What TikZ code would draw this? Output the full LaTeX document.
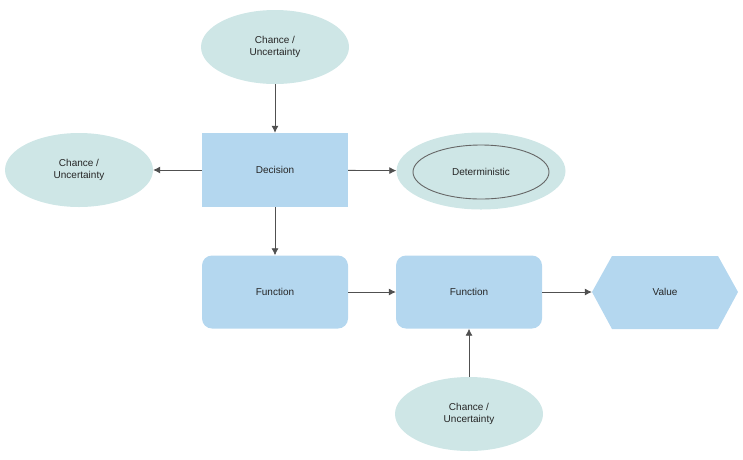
\documentclass[tikz,border=0pt]{standalone}
\usepackage{fontspec}
\setmainfont{Liberation Sans}
\usetikzlibrary{shapes.geometric,arrows.meta}
\definecolor{ell}{RGB}{206,230,230}
\definecolor{box}{RGB}{180,215,239}
\definecolor{ln}{RGB}{80,80,80}
\begin{document}
\begin{tikzpicture}[x=1pt,y=-1pt,
  every node/.style={font=\fontsize{10}{12}\selectfont, text=black!85, align=center},
  ch/.style={ellipse, fill=ell, minimum width=148, minimum height=74, inner sep=0},
  dec/.style={rectangle, fill=box, minimum width=146, minimum height=74},
  fn/.style={rectangle, rounded corners=10, fill=box, minimum width=146, minimum height=73},
  arr/.style={draw=ln, line width=0.8pt, -{Latex[length=7pt,width=7pt]}}]
\useasboundingbox (0,0) rectangle (743,459);
\node[ch] (top) at (275,47) {Chance /\\Uncertainty};
\node[dec] (d) at (275,170) {Decision};
\node[ch] (left) at (79,170) {Chance /\\Uncertainty};
\node[ch, minimum width=169, minimum height=77] (det) at (481,171) {};
\node[ellipse, draw=black!60, line width=0.9pt, minimum width=136, minimum height=54] (deti) at (481,172) {Deterministic};
\node[fn] (f1) at (275,292) {Function};
\node[fn] (f2) at (469,292) {Function};
\fill[box] (592,292) -- (612,256) -- (718,256) -- (738,292) -- (718,329) -- (612,329) -- cycle;
\node[minimum width=146, minimum height=73] (v) at (665,292) {Value};
\node[ch] (bot) at (469,414) {Chance /\\Uncertainty};
\draw[arr] (top) -- (d);
\draw[arr] (d) -- (left);
\draw[arr] (d) -- (det);
\draw[arr] (d) -- (f1);
\draw[arr] (f1) -- (f2);
\draw[arr] (f2) -- (v);
\draw[arr] (bot) -- (f2);
\end{tikzpicture}
\end{document}
